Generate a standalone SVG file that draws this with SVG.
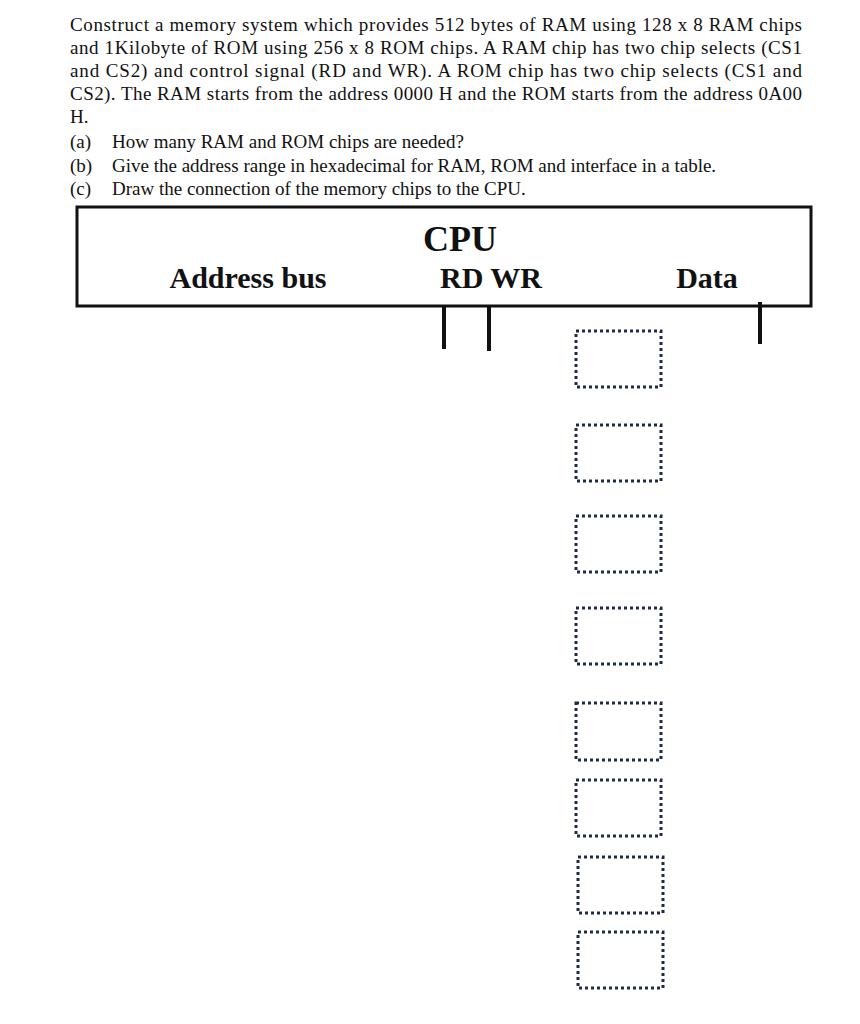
<svg xmlns="http://www.w3.org/2000/svg" width="860" height="1024" viewBox="0 0 860 1024">
<style>
.t{font-family:"Liberation Serif",serif;font-size:19px;fill:#111}
.b{font-family:"Liberation Serif",serif;font-weight:bold;fill:#111}
.chip{fill:none;stroke:#1f2a44;stroke-width:3;stroke-dasharray:3 3}
</style>
<rect width="860" height="1024" fill="#fff"/>
<g id="question">
<text class="t" x="70" y="31" textLength="732" lengthAdjust="spacing">Construct a memory system which provides 512 bytes of RAM using 128 x 8 RAM chips</text>
<text class="t" x="70" y="54" textLength="732" lengthAdjust="spacing">and 1Kilobyte of ROM using 256 x 8 ROM chips. A RAM chip has two chip selects (CS1</text>
<text class="t" x="70" y="77" textLength="732" lengthAdjust="spacing">and CS2) and control signal (RD and WR). A ROM chip has two chip selects (CS1 and</text>
<text class="t" x="70" y="100" textLength="732" lengthAdjust="spacing">CS2). The RAM starts from the address 0000 H and the ROM starts from the address 0A00</text>
<text class="t" x="70" y="123">H.</text>
<text class="t" x="70" y="148">(a)</text><text class="t" x="112" y="148">How many RAM and ROM chips are needed?</text>
<text class="t" x="70" y="172">(b)</text><text class="t" x="112" y="172">Give the address range in hexadecimal for RAM, ROM and interface in a table.</text>
<text class="t" x="70" y="195">(c)</text><text class="t" x="112" y="195">Draw the connection of the memory chips to the CPU.</text>
</g>
<g id="cpu">
<rect x="77" y="207" width="734" height="99" fill="none" stroke="#111" stroke-width="3"/>
<text class="b" x="460" y="251" font-size="36" text-anchor="middle">CPU</text>
<text class="b" x="248" y="288" font-size="30" text-anchor="middle">Address bus</text>
<text class="b" x="491" y="288" font-size="30" text-anchor="middle">RD WR</text>
<text class="b" x="707" y="288" font-size="30" text-anchor="middle">Data</text>
</g>
<g id="connectors" stroke="#111" stroke-width="4">
<line x1="444" y1="306" x2="444" y2="349"/>
<line x1="489" y1="306" x2="489" y2="351"/>
<line x1="760" y1="302" x2="760" y2="344"/>
</g>
<g id="chip1"><rect class="chip" x="576" y="331" width="85" height="56"/></g>
<g id="chip2"><rect class="chip" x="576" y="425" width="85" height="56"/></g>
<g id="chip3"><rect class="chip" x="576" y="516" width="85" height="56"/></g>
<g id="chip4"><rect class="chip" x="576" y="608" width="85" height="56"/></g>
<g id="chip5"><rect class="chip" x="576" y="703" width="85" height="57"/></g>
<g id="chip6"><rect class="chip" x="576" y="780" width="85" height="56"/></g>
<g id="chip7"><rect class="chip" x="578" y="857" width="85" height="56"/></g>
<g id="chip8"><rect class="chip" x="578" y="932" width="85" height="56"/></g>
</svg>
